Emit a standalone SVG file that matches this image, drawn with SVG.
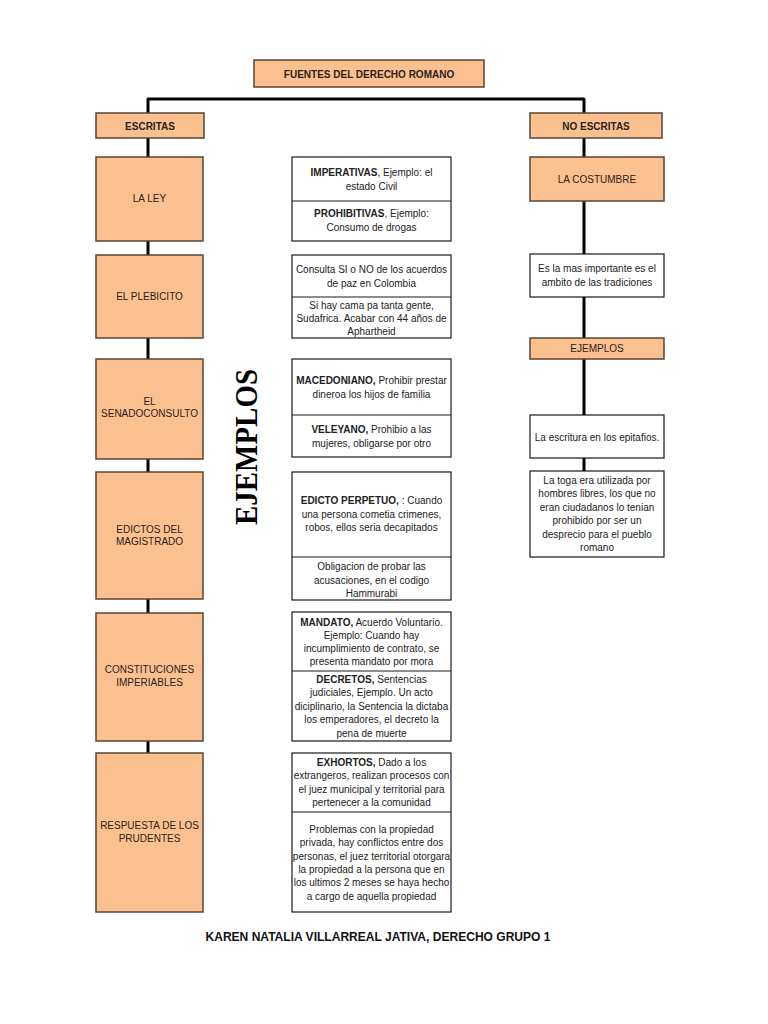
<svg xmlns="http://www.w3.org/2000/svg" width="768" height="1024" viewBox="0 0 768 1024">
<style>
.pb{fill:#fac090;stroke:#5a4636;stroke-width:1.5}
.wb{fill:#ffffff;stroke:#1a1a1a;stroke-width:1.2}
.dv{stroke:#1a1a1a;stroke-width:1.2}
.t{font-family:"Liberation Sans",Arial,sans-serif;font-size:10px;fill:#222;text-anchor:middle}
.tp{font-family:"Liberation Sans",Arial,sans-serif;font-size:10px;fill:#2e2218;text-anchor:middle}
.b{font-weight:bold}
.c{fill:none;stroke:#000;stroke-width:3;stroke-linejoin:round}
</style>
<rect width="768" height="1024" fill="#ffffff"/>
<g id="connectors">
<path class="c" d="M148,113 V99 H584 V113"/>
<path class="c" d="M148,138 V157 M148,241 V255 M148,338 V359 M148,459 V472 M148,599 V613 M148,741 V753"/>
<path class="c" d="M584,138 V157 M584,201 V254 M584,297 V338 M584,359 V415 M584,458 V471"/>
</g>
<g id="fuentes"><rect class="pb" x="254" y="60" width="230" height="27"/><text class="tp b" x="369" y="78">FUENTES DEL DERECHO ROMANO</text></g>
<g id="escritas"><rect class="pb" x="96" y="113" width="108" height="25"/><text class="tp b" x="150" y="130">ESCRITAS</text></g>
<g id="noescritas"><rect class="pb" x="530" y="113" width="132" height="25"/><text class="tp b" x="596" y="130">NO ESCRITAS</text></g>
<g id="laley"><rect class="pb" x="96" y="157" width="107" height="84"/><text class="tp" x="149.5" y="202">LA LEY</text></g>
<g id="plebicito"><rect class="pb" x="96" y="255" width="107" height="83"/><text class="tp" x="149.5" y="300">EL PLEBICITO</text></g>
<g id="senadoconsulto"><rect class="pb" x="96" y="359" width="107" height="100"/><text class="tp" x="149.5" y="405">EL</text><text class="tp" x="149.5" y="417">SENADOCONSULTO</text></g>
<g id="edictos"><rect class="pb" x="96" y="472" width="107" height="127"/><text class="tp" x="149.5" y="533">EDICTOS DEL</text><text class="tp" x="149.5" y="545">MAGISTRADO</text></g>
<g id="constituciones"><rect class="pb" x="96" y="613" width="107" height="128"/><text class="tp" x="149.5" y="673">CONSTITUCIONES</text><text class="tp" x="149.5" y="686">IMPERIABLES</text></g>
<g id="respuesta"><rect class="pb" x="96" y="753" width="107" height="159"/><text class="tp" x="149.5" y="829">RESPUESTA DE LOS</text><text class="tp" x="149.5" y="842">PRUDENTES</text></g>
<g id="ejemplos-label"><text x="0" y="0" transform="translate(257,447) rotate(-90)" font-family="'Liberation Serif','Times New Roman',serif" font-weight="bold" font-size="32" text-anchor="middle" fill="#000" textLength="156" lengthAdjust="spacingAndGlyphs">EJEMPLOS</text></g>
<g id="ex-ley"><rect class="wb" x="292" y="157" width="159" height="84"/><line class="dv" x1="292" y1="201" x2="451" y2="201"/>
<text class="t" x="371.5" y="176"><tspan class="b">IMPERATIVAS</tspan>, Ejemplo: el</text><text class="t" x="371.5" y="190">estado Civil</text>
<text class="t" x="371.5" y="217"><tspan class="b">PROHIBITIVAS</tspan>, Ejemplo:</text><text class="t" x="371.5" y="231">Consumo de drogas</text></g>
<g id="ex-plebicito"><rect class="wb" x="292" y="255" width="159" height="83"/><line class="dv" x1="292" y1="297" x2="451" y2="297"/>
<text class="t" x="371.5" y="273">Consulta SI o NO de los acuerdos</text><text class="t" x="371.5" y="287">de paz en Colombia</text>
<text class="t" x="371.5" y="309">Si hay cama pa tanta gente,</text><text class="t" x="371.5" y="322">Sudafrica. Acabar con 44 años de</text><text class="t" x="371.5" y="335">Aphartheid</text></g>
<g id="ex-senado"><rect class="wb" x="292" y="359" width="159" height="98"/><line class="dv" x1="292" y1="415" x2="451" y2="415"/>
<text class="t" x="371.5" y="384"><tspan class="b">MACEDONIANO,</tspan> Prohibir prestar</text><text class="t" x="371.5" y="398">dineroa los hijos de familia</text>
<text class="t" x="371.5" y="433"><tspan class="b">VELEYANO,</tspan> Prohibio a las</text><text class="t" x="371.5" y="447">mujeres, obligarse por otro</text></g>
<g id="ex-edictos"><rect class="wb" x="292" y="472" width="159" height="128"/><line class="dv" x1="292" y1="557" x2="451" y2="557"/>
<text class="t" x="371.5" y="504"><tspan class="b">EDICTO PERPETUO,</tspan> : Cuando</text><text class="t" x="371.5" y="518">una persona cometia crimenes,</text><text class="t" x="371.5" y="531">robos, ellos seria decapitados</text>
<text class="t" x="371.5" y="570">Obligacion de probar las</text><text class="t" x="371.5" y="584">acusaciones, en el codigo</text><text class="t" x="371.5" y="597">Hammurabi</text></g>
<g id="ex-constituciones"><rect class="wb" x="292" y="612" width="159" height="129"/><line class="dv" x1="292" y1="671" x2="451" y2="671"/>
<text class="t" x="371.5" y="626"><tspan class="b">MANDATO,</tspan> Acuerdo Voluntario.</text><text class="t" x="371.5" y="639">Ejemplo: Cuando hay</text><text class="t" x="371.5" y="652">incumplimiento de contrato, se</text><text class="t" x="371.5" y="665">presenta mandato por mora</text>
<text class="t" x="371.5" y="683"><tspan class="b">DECRETOS,</tspan>  Sentencias</text><text class="t" x="371.5" y="696">judiciales, Ejemplo. Un acto</text><text class="t" x="371.5" y="710">diciplinario, la Sentencia la dictaba</text><text class="t" x="371.5" y="723">los emperadores, el decreto la</text><text class="t" x="371.5" y="737">pena de muerte</text></g>
<g id="ex-respuesta"><rect class="wb" x="292" y="753" width="159" height="159"/><line class="dv" x1="292" y1="812" x2="451" y2="812"/>
<text class="t" x="371.5" y="766"><tspan class="b">EXHORTOS,</tspan> Dado a los</text><text class="t" x="371.5" y="779">extrangeros, realizan procesos con</text><text class="t" x="371.5" y="793">el juez municipal y territorial para</text><text class="t" x="371.5" y="806">pertenecer a la comunidad</text>
<text class="t" x="371.5" y="833">Problemas con la propiedad</text><text class="t" x="371.5" y="846">privada, hay conflictos entre dos</text><text class="t" x="371.5" y="860">personas, el juez territorial otorgara</text><text class="t" x="371.5" y="873">la propiedad a la persona que en</text><text class="t" x="371.5" y="886">los ultimos 2 meses se haya hecho</text><text class="t" x="371.5" y="900">a cargo de aquella propiedad</text></g>
<g id="costumbre"><rect class="pb" x="530" y="157" width="134" height="44"/><text class="tp" x="597" y="183">LA COSTUMBRE</text></g>
<g id="importante"><rect class="wb" x="530" y="254" width="134" height="43"/><text class="t" x="597" y="272">Es la mas importante es el</text><text class="t" x="597" y="286">ambito de las tradiciones</text></g>
<g id="ejemplos"><rect class="pb" x="530" y="338" width="134" height="21"/><text class="tp" x="597" y="352">EJEMPLOS</text></g>
<g id="epitafios"><rect class="wb" x="530" y="415" width="134" height="43"/><text class="t" x="597" y="441">La escritura en los epitafios.</text></g>
<g id="toga"><rect class="wb" x="530" y="471" width="134" height="86"/>
<text class="t" x="597" y="484">La toga era utilizada por</text><text class="t" x="597" y="497">hombres libres, los que no</text><text class="t" x="597" y="511">eran ciudadanos lo tenian</text><text class="t" x="597" y="524">prohibido por ser un</text><text class="t" x="597" y="538">desprecio para el pueblo</text><text class="t" x="597" y="551">romano</text></g>
<g id="footer"><text x="378" y="941" font-family="'Liberation Sans',Arial,sans-serif" font-weight="bold" font-size="12" fill="#111" text-anchor="middle" textLength="345" lengthAdjust="spacingAndGlyphs">KAREN NATALIA VILLARREAL JATIVA, DERECHO GRUPO 1</text></g>
</svg>
